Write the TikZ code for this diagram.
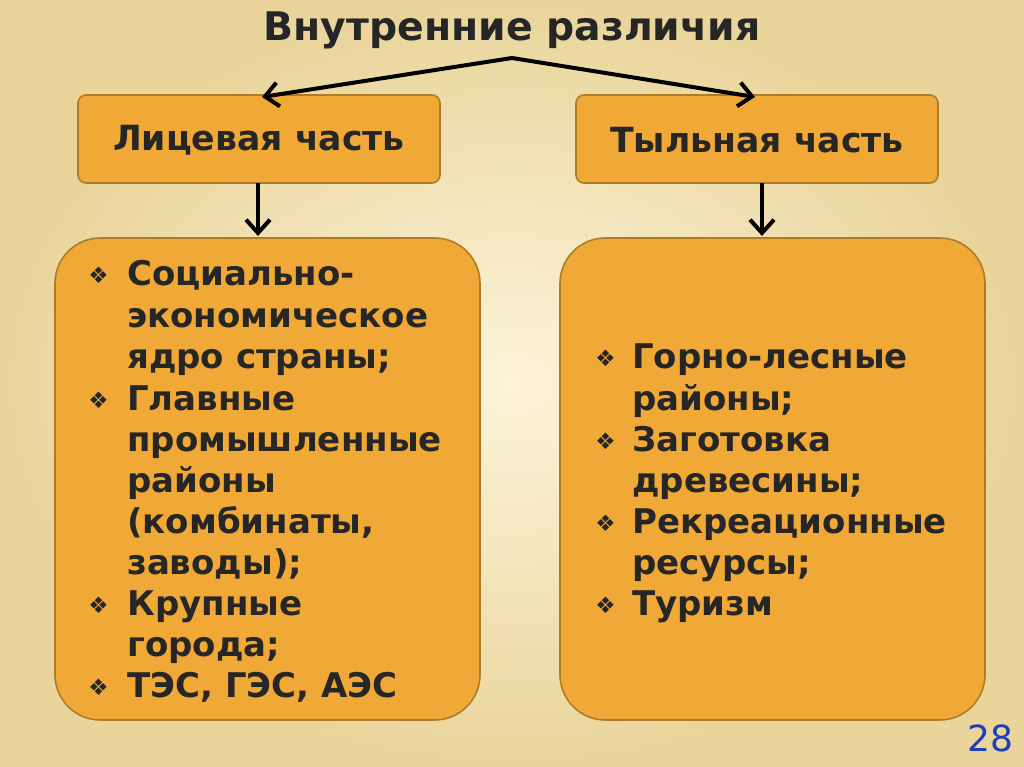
\documentclass[tikz,border=0pt]{standalone}
\usepackage{fontspec}
\setmainfont{DejaVu Sans}
\usetikzlibrary{arrows.meta}
\definecolor{boxfill}{HTML}{F0A836}
\definecolor{boxline}{HTML}{B07A28}
\definecolor{bgout}{HTML}{E9D49A}
\definecolor{bgin}{HTML}{FCF4DA}
\begin{document}
\begin{tikzpicture}[x=0.75pt,y=-0.75pt,
  box/.style={draw=boxline,line width=1.2pt,fill=boxfill},
  arr/.style={line width=3pt,-{Straight Barb[length=10pt,width=18pt,line width=3pt]}},
  ln/.style={anchor=base west,inner sep=0pt,font=\bfseries\fontsize{25.5}{30}\selectfont,text=black!85},
  bul/.style={anchor=base west,inner sep=0pt,font=\bfseries\fontsize{17}{20}\selectfont,text=black!85}]
\useasboundingbox (0,0) rectangle (1024,767);
\shade[outer color=bgout,inner color=bgin] (0,0) rectangle (1024,767);
\node[font=\bfseries\fontsize{29.5}{34}\selectfont,text=black!85] (title) at (512,30) {Внутренние различия};
\coordinate (top) at (512,58);
\draw[box,rounded corners=6pt] (78,95) rectangle (440,183);
\node[font=\bfseries\fontsize{26}{30}\selectfont,text=black!85] (L) at (259,140) {Лицевая часть};
\draw[box,rounded corners=6pt] (576,95) rectangle (938,183);
\node[font=\bfseries\fontsize{26}{30}\selectfont,text=black!85] (R) at (757,140) {Тыльная часть};
\coordinate (la) at (262,97); \coordinate (ra) at (755,97);
\draw[arr] (top) -- (la);
\draw[arr] (top) -- (ra);
\coordinate (l1) at (258,183); \coordinate (l2) at (258,236);
\coordinate (r1) at (762,183); \coordinate (r2) at (762,236);
\draw[arr] (l1) -- (l2);
\draw[arr] (r1) -- (r2);
\draw[box,rounded corners=34pt] (55,238) rectangle (480,720);
\draw[box,rounded corners=34pt] (560,238) rectangle (985,720);
% left
\foreach \y in {285,410,615,697} \node[bul] at (88,\y-2) {❖};
\foreach \t/\y in {Социально-/285, экономическое/327, ядро страны;/368, Главные/410, промышленные/451, районы/492, {(комбинаты,}/533, заводы);/574, Крупные/615, города;/656, {ТЭС, ГЭС, АЭС}/697}
  \node[ln] at (127,\y) {\t};
% right
\foreach \y in {368,451,533,615} \node[bul] at (595,\y-2) {❖};
\foreach \t/\y in {Горно-лесные/368, районы;/410, Заготовка/451, древесины;/492, Рекреационные/533, ресурсы;/574, Туризм/615}
  \node[ln] at (632,\y) {\t};
\node[font=\fontsize{27}{31}\selectfont,text={rgb,255:red,30;green,60;blue,190}] (pg) at (990,738) {28};
\end{tikzpicture}
\end{document}
